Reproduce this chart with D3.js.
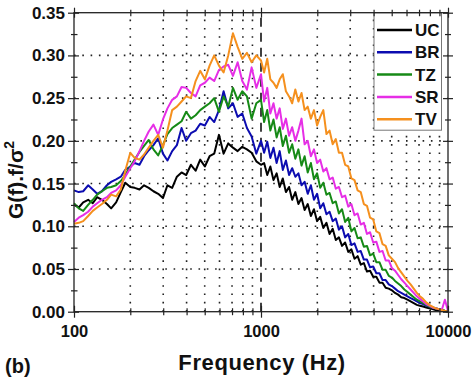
<!DOCTYPE html>
<html><head><meta charset="utf-8">
<script src="https://cdn.jsdelivr.net/npm/d3@7"></script>
<style>body{margin:0;background:#fff}text{font-family:"Liberation Sans",Arial,sans-serif;font-weight:bold;fill:#111}</style>
</head><body>
<svg id="c" width="474" height="381"></svg>
<script>
// ---- data ----
const freqLow = [100,106,112,119,126,133,141,150,158,168,178,188,200,211,224,237,251,266,282,299,316,335,355,376,398,422,447,473,501,531,562,596,631,668,708,750,794,841,891,944,1000];
const freqHigh = [1039,1080,1122,1166,1212,1259,1308,1359,1413,1468,1526,1585,1647,1711,1778,1848,1920,1995,2073,2154,2239,2326,2418,2512,2610,2712,2818,2929,3043,3162,3286,3415,3548,3687,3831,3981,4137,4299,4467,4642,4823,5012,5208,5412,5623,5843,6072,6310,6556,6813,7079,7356,7644,7943,8254,8577,8913,9261,9624,10000];
const frequency = freqLow.concat(freqHigh);

const seriesNames = ["UC","BR","TZ","SR","TV"];
const seriesColors = ["#000000","#0c0cb0","#168a16","#e62ee6","#f5901e"];

const UC = [0.125,0.122,0.128,0.131,0.127,0.134,0.131,0.126,0.121,0.128,0.140,0.151,0.146,0.145,0.143,0.148,0.145,0.141,0.138,0.133,0.148,0.145,0.158,0.163,0.160,0.172,0.165,0.178,0.170,0.182,0.185,0.207,0.185,0.197,0.192,0.188,0.193,0.190,0.186,0.176,0.172,
  0.174,0.160,0.170,0.154,0.162,0.146,0.156,0.140,0.146,0.131,0.140,0.126,0.133,0.119,0.126,0.112,0.120,0.106,0.111,0.098,0.104,0.091,0.097,0.084,0.087,0.077,0.081,0.070,0.073,0.062,0.065,0.055,0.057,0.047,0.048,0.041,0.041,0.034,0.034,0.028,0.027,0.025,0.022,0.020,0.017,0.016,0.014,0.012,0.010,0.008,0.007,0.006,0.005,0.004,0.003,0.002,0.002,0.001,0.001,0.000];
const BR = [0.142,0.140,0.141,0.148,0.143,0.138,0.141,0.148,0.152,0.155,0.158,0.166,0.170,0.174,0.172,0.182,0.189,0.195,0.203,0.185,0.177,0.188,0.195,0.215,0.200,0.209,0.212,0.220,0.218,0.228,0.222,0.236,0.258,0.238,0.244,0.228,0.232,0.215,0.205,0.185,0.200,
  0.186,0.199,0.180,0.192,0.174,0.188,0.166,0.177,0.160,0.168,0.158,0.162,0.148,0.152,0.138,0.148,0.131,0.138,0.121,0.127,0.114,0.117,0.106,0.109,0.096,0.100,0.087,0.091,0.078,0.080,0.070,0.071,0.061,0.061,0.052,0.053,0.045,0.045,0.037,0.037,0.032,0.030,0.027,0.024,0.022,0.020,0.018,0.016,0.014,0.012,0.010,0.009,0.007,0.006,0.005,0.004,0.003,0.002,0.001,0.000];
const TZ = [0.127,0.121,0.118,0.125,0.131,0.137,0.141,0.145,0.146,0.148,0.153,0.160,0.170,0.178,0.187,0.194,0.201,0.190,0.183,0.195,0.208,0.215,0.219,0.223,0.234,0.226,0.230,0.236,0.240,0.244,0.250,0.234,0.252,0.240,0.262,0.248,0.258,0.252,0.226,0.244,0.248,
  0.222,0.236,0.212,0.225,0.204,0.216,0.194,0.206,0.186,0.196,0.179,0.190,0.171,0.182,0.163,0.174,0.155,0.162,0.145,0.151,0.137,0.139,0.127,0.129,0.115,0.120,0.105,0.110,0.094,0.098,0.086,0.087,0.076,0.077,0.066,0.068,0.058,0.058,0.049,0.049,0.042,0.040,0.036,0.033,0.030,0.026,0.023,0.020,0.017,0.014,0.012,0.010,0.008,0.006,0.005,0.004,0.003,0.002,0.001,0.000];
const SR = [0.105,0.110,0.113,0.117,0.123,0.127,0.131,0.134,0.139,0.142,0.148,0.158,0.168,0.176,0.188,0.200,0.211,0.219,0.207,0.225,0.238,0.248,0.252,0.263,0.262,0.256,0.252,0.265,0.268,0.274,0.270,0.283,0.287,0.289,0.276,0.292,0.270,0.260,0.286,0.262,0.278,
  0.246,0.262,0.232,0.244,0.226,0.238,0.214,0.226,0.206,0.216,0.200,0.212,0.226,0.196,0.200,0.182,0.190,0.174,0.178,0.164,0.168,0.155,0.157,0.144,0.146,0.134,0.136,0.123,0.126,0.113,0.115,0.102,0.104,0.091,0.093,0.081,0.082,0.070,0.071,0.060,0.060,0.051,0.048,0.043,0.038,0.034,0.030,0.026,0.022,0.018,0.015,0.012,0.009,0.007,0.005,0.004,0.003,0.002,0.014,0.001];
const TV = [0.103,0.104,0.106,0.112,0.118,0.122,0.126,0.131,0.137,0.135,0.143,0.165,0.186,0.180,0.178,0.184,0.192,0.200,0.207,0.192,0.212,0.236,0.240,0.246,0.252,0.250,0.270,0.282,0.272,0.288,0.300,0.288,0.280,0.300,0.326,0.310,0.296,0.303,0.292,0.300,0.294,
  0.280,0.296,0.272,0.268,0.262,0.272,0.278,0.258,0.252,0.244,0.260,0.246,0.256,0.236,0.240,0.226,0.236,0.218,0.228,0.236,0.208,0.212,0.196,0.202,0.186,0.186,0.172,0.170,0.156,0.154,0.142,0.140,0.126,0.124,0.110,0.108,0.094,0.092,0.079,0.077,0.066,0.062,0.058,0.051,0.046,0.041,0.036,0.032,0.027,0.022,0.018,0.015,0.011,0.008,0.006,0.004,0.003,0.002,0.001,0.000];
const seriesValues = [UC, BR, TZ, SR, TV];

const xMajorTicks = [100,1000,10000];
const xMinorTicks = [200,300,400,500,600,700,800,900,2000,3000,4000,5000,6000,7000,8000,9000];
const yMajorTicks = [0,0.05,0.10,0.15,0.20,0.25,0.30,0.35];
const yMinorTicks = [0.025,0.075,0.125,0.175,0.225,0.275,0.325];
const yGridValues = [0.05,0.10,0.15,0.20,0.25,0.30];

// ---- drawing ----
const svg = d3.select("#c");
const L=74, R=448, T=12.7, B=311.7;
const x = d3.scaleLog().domain([100,10000]).range([L,R]);
const y = d3.scaleLinear().domain([0,0.35]).range([B,T]);

// grid
const grid = svg.append("g").attr("stroke","#222").attr("stroke-width",1.6).attr("stroke-dasharray","1.6,6.7");
grid.selectAll(".hg").data(yGridValues).enter().append("line")
  .attr("x1",L).attr("x2",R).attr("y1",d=>y(d)).attr("y2",d=>y(d));
grid.selectAll(".vg").data(xMinorTicks).enter().append("line")
  .attr("x1",d=>x(d)).attr("x2",d=>x(d)).attr("y1",B).attr("y2",T);
svg.append("line").attr("x1",x(1000)).attr("x2",x(1000)).attr("y1",B).attr("y2",T)
  .attr("stroke","#111").attr("stroke-width",1.6).attr("stroke-dasharray","9,6");

// series
const line = d3.line().x(d=>x(d[0])).y(d=>y(d[1]));
seriesValues.forEach((vals,i)=>{
  svg.append("path").datum(frequency.map((f,k)=>[f,vals[k]]))
    .attr("d",line).attr("fill","none").attr("stroke",seriesColors[i])
    .attr("stroke-width",2).attr("stroke-linejoin","round");
});

// legend
const lg = svg.append("g");
lg.append("rect").attr("x",374).attr("y",T).attr("width",67.5).attr("height",117.5)
  .attr("fill","#fff").attr("stroke","#777").attr("stroke-width",1);
seriesNames.forEach((n,i)=>{
  const yy = 30 + i*22.3;
  lg.append("line").attr("x1",377).attr("x2",412).attr("y1",yy).attr("y2",yy)
    .attr("stroke",seriesColors[i]).attr("stroke-width",2.5);
  lg.append("text").attr("x",415).attr("y",yy).attr("dy","0.36em").attr("font-size",17).text(n);
});

// frame
svg.append("rect").attr("x",L).attr("y",T).attr("width",R-L).attr("height",B-T)
  .attr("fill","none").attr("stroke","#222").attr("stroke-width",1.3);

// axes (ticks crossing the frame)
function crossTicks(g){
  g.select(".domain").remove();
  g.selectAll(".tick line").attr("stroke","#222").attr("stroke-width",1.2);
}
const bx = svg.append("g").attr("transform",`translate(0,${B})`)
  .call(d3.axisBottom(x).tickValues(xMajorTicks).tickSize(6).tickFormat(d3.format("d")));
crossTicks(bx);
bx.selectAll(".tick line").attr("y1",-6).attr("y2",6);
bx.selectAll(".tick text").attr("font-size",16.5).attr("y",0).attr("dy","25.5px")
  .style("font-family",'"Liberation Sans",Arial,sans-serif').style("font-weight","bold").attr("fill","#111");
const bxm = svg.append("g").attr("transform",`translate(0,${B})`)
  .call(d3.axisBottom(x).tickValues(xMinorTicks).tickSize(3.5).tickFormat(""));
crossTicks(bxm); bxm.selectAll(".tick line").attr("y1",-3.5).attr("y2",3.5);

const tx = svg.append("g").attr("transform",`translate(0,${T})`)
  .call(d3.axisTop(x).tickValues(xMajorTicks).tickSize(6).tickFormat(""));
crossTicks(tx); tx.selectAll(".tick line").attr("y1",-5).attr("y2",5);
const txm = svg.append("g").attr("transform",`translate(0,${T})`)
  .call(d3.axisTop(x).tickValues(xMinorTicks).tickSize(3).tickFormat(""));
crossTicks(txm); txm.selectAll(".tick line").attr("y1",-3).attr("y2",3.5);

const ly = svg.append("g").attr("transform",`translate(${L},0)`)
  .call(d3.axisLeft(y).tickValues(yMajorTicks).tickSize(6).tickFormat(d3.format(".2f")));
crossTicks(ly); ly.selectAll(".tick line").attr("x1",-6).attr("x2",5);
ly.selectAll(".tick text").attr("font-size",17).attr("x",-9)
  .style("font-family",'"Liberation Sans",Arial,sans-serif').style("font-weight","bold").attr("fill","#111");
const lym = svg.append("g").attr("transform",`translate(${L},0)`)
  .call(d3.axisLeft(y).tickValues(yMinorTicks).tickSize(3).tickFormat(""));
crossTicks(lym); lym.selectAll(".tick line").attr("x1",-3).attr("x2",3.5);

const ry = svg.append("g").attr("transform",`translate(${R},0)`)
  .call(d3.axisRight(y).tickValues(yMajorTicks).tickSize(5).tickFormat(""));
crossTicks(ry); ry.selectAll(".tick line").attr("x1",-5).attr("x2",5);
const rym = svg.append("g").attr("transform",`translate(${R},0)`)
  .call(d3.axisRight(y).tickValues(yMinorTicks).tickSize(3).tickFormat(""));
crossTicks(rym); rym.selectAll(".tick line").attr("x1",-3).attr("x2",3);

// titles
svg.append("text").attr("x",262).attr("y",370).attr("text-anchor","middle")
  .attr("font-size",22).attr("letter-spacing","0.6px").text("Frequency (Hz)");
const yt = svg.append("text").attr("transform","translate(23,180) rotate(-90)")
  .attr("text-anchor","middle").attr("font-size",21);
yt.append("tspan").text("G(f).f/σ");
yt.append("tspan").attr("dy",-9).attr("font-size",14).text("2");
svg.append("text").attr("x",5).attr("y",373).attr("font-size",20).text("(b)");
</script>
</body></html>
